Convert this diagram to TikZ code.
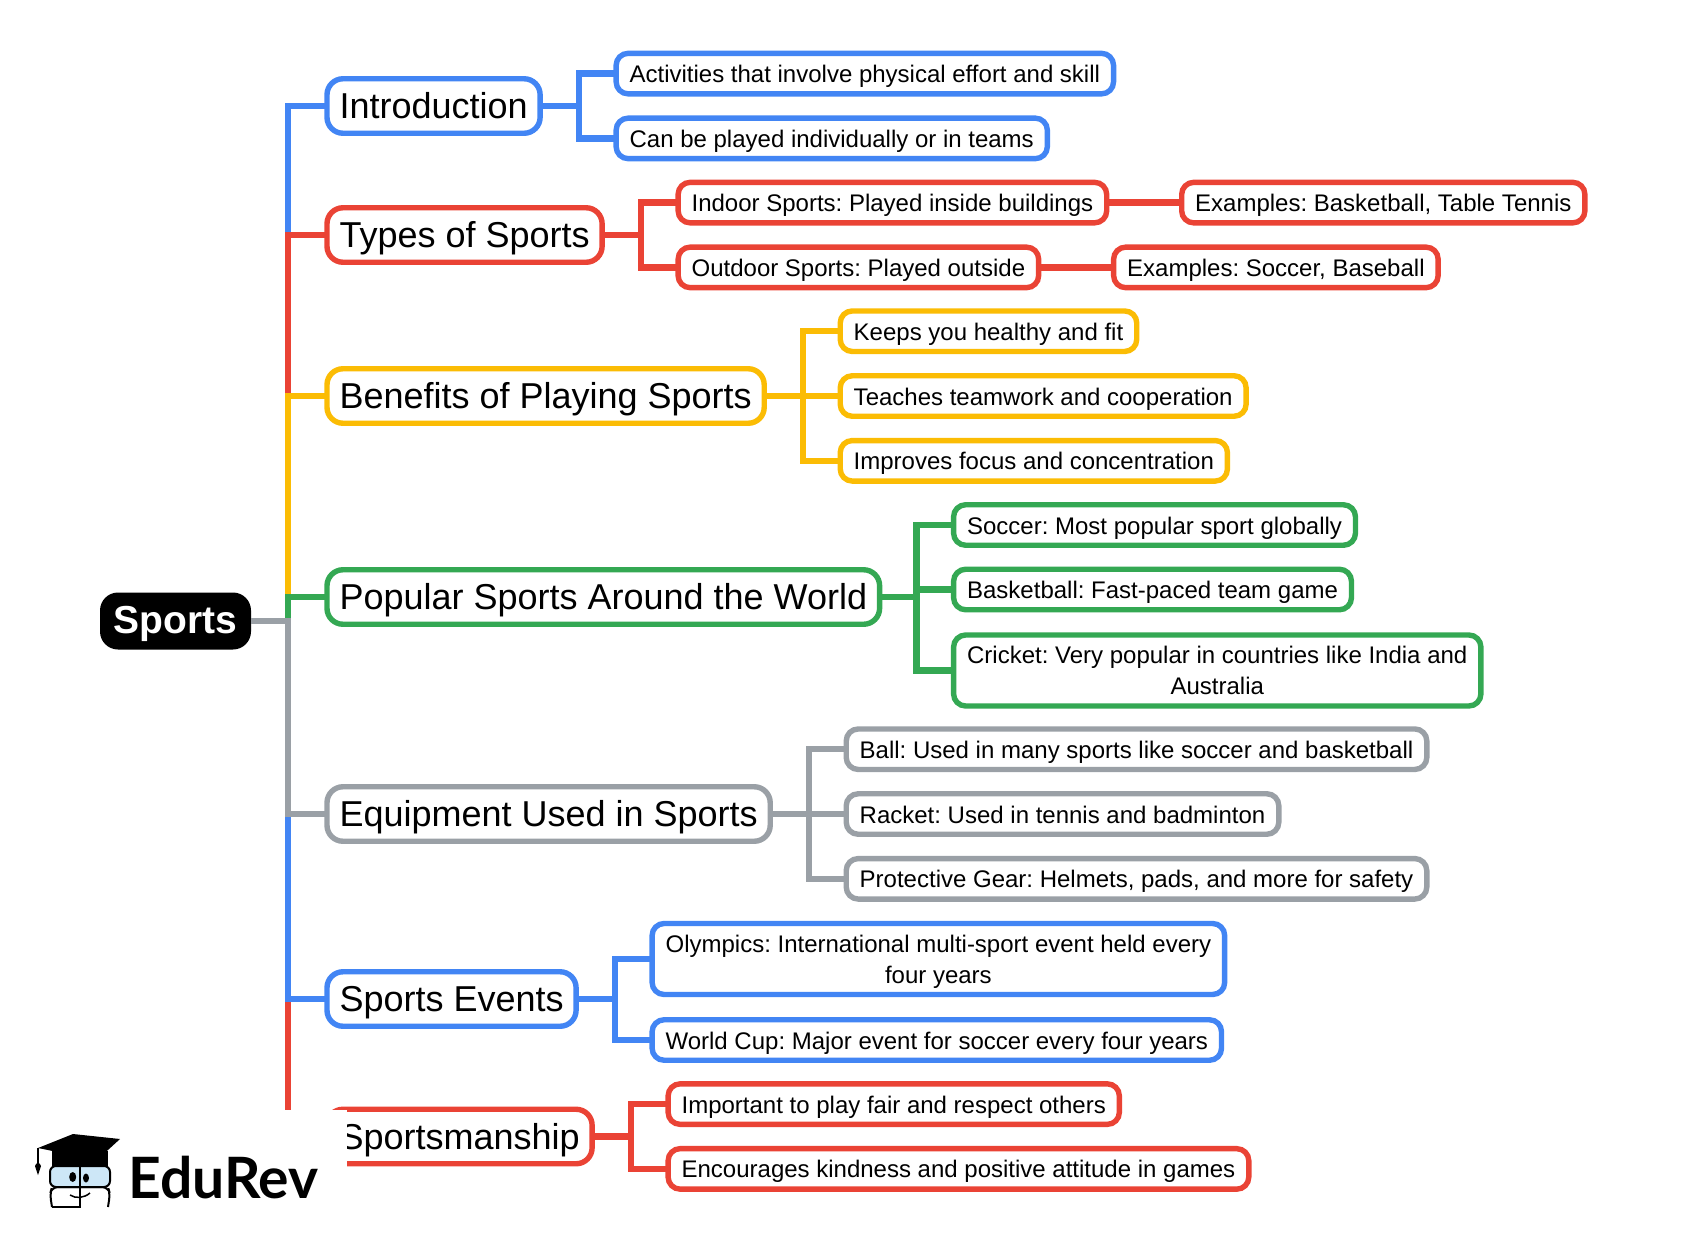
\documentclass[tikz,border=0pt]{standalone}
\usepackage{fontspec}
\setmainfont{Liberation Sans}
\newfontfamily\logofont{Lato}
\usetikzlibrary{positioning}
\definecolor{mblue}{HTML}{4285F4}
\definecolor{mred}{HTML}{EA4335}
\definecolor{myellow}{HTML}{FBBC04}
\definecolor{mgreen}{HTML}{34A853}
\definecolor{mgray}{HTML}{9AA0A6}
\definecolor{glass}{HTML}{CDE7F7}
\tikzstyle{rootbox} = [rectangle, rounded corners=18pt, minimum width=151pt, minimum height=57pt, inner sep=0pt, outer sep=0pt, fill=black, text=white, text height=30pt, text depth=6pt, font=\fontsize{39}{44}\selectfont\bfseries]
\tikzstyle{topic} = [rectangle, rounded corners=16pt, minimum height=54.5pt, inner xsep=12.5pt, inner ysep=0pt, outer sep=0pt, line width=5.4pt, fill=white, text height=33pt, text depth=8pt, font=\fontsize{36}{42}\selectfont]
\tikzstyle{leaftwo} = [rectangle, rounded corners=12pt, minimum height=71pt, inner xsep=13.5pt, inner ysep=2pt, outer sep=0pt, line width=5.4pt, fill=white, align=center, text depth=0pt, font=\fontsize{24}{31}\selectfont\frenchspacing]
\tikzstyle{leaf} = [leaftwo, minimum height=40.5pt, text height=23pt, text depth=5pt]
\tikzstyle{link} = [line width=6.4pt]

\begin{document}
\begin{tikzpicture}[node distance=0cm, x=1pt, y=1pt]
    \useasboundingbox (0,0) rectangle (1687,-1242);

    \node (root) [rootbox] at (175.5,-621) {Sports};

    \node (intro) [topic, draw=mblue, right=of root.east, xshift=76pt, yshift=515pt] {Introduction};
    \node (types) [topic, draw=mred, right=of root.east, xshift=76pt, yshift=386pt] {Types of Sports};
    \node (benefits) [topic, draw=myellow, right=of root.east, xshift=76pt, yshift=225pt] {Benefits of Playing Sports};
    \node (popular) [topic, draw=mgreen, right=of root.east, xshift=76pt, yshift=24pt] {Popular Sports Around the World};
    \node (equip) [topic, draw=mgray, right=of root.east, xshift=76pt, yshift=-193pt] {Equipment Used in Sports};
    \node (events) [topic, draw=mblue, right=of root.east, xshift=76pt, yshift=-378pt] {Sports Events};
    \node (manship) [topic, draw=mred, right=of root.east, xshift=76pt, yshift=-515.5pt] {Sportsmanship};

    \node (effort) [leaf, draw=mblue, right=of intro.east, xshift=76pt, yshift=32.4pt] {Activities that involve physical effort and skill};
    \node (teams) [leaf, draw=mblue, right=of intro.east, xshift=76pt, yshift=-32.4pt] {Can be played individually or in teams};

    \node (indoor) [leaf, draw=mred, right=of types.east, xshift=76pt, yshift=32.4pt] {Indoor Sports: Played inside buildings};
    \node (outdoor) [leaf, draw=mred, right=of types.east, xshift=76pt, yshift=-32.4pt] {Outdoor Sports: Played outside};
    \node (indoorex) [leaf, draw=mred, right=of indoor.east, xshift=75pt] {Examples: Basketball, Table Tennis};
    \node (outdoorex) [leaf, draw=mred, right=of outdoor.east, xshift=75pt] {Examples: Soccer, Baseball};

    \node (healthy) [leaf, draw=myellow, right=of benefits.east, xshift=76pt, yshift=64.8pt] {Keeps you healthy and fit};
    \node (teamwork) [leaf, draw=myellow, right=of benefits.east, xshift=76pt] {Teaches teamwork and cooperation};
    \node (focus) [leaf, draw=myellow, right=of benefits.east, xshift=76pt, yshift=-64.8pt] {Improves focus and concentration};

    \node (soccer) [leaf, draw=mgreen, right=of popular.east, xshift=74pt, yshift=72pt] {Soccer: Most popular sport globally};
    \node (basket) [leaf, draw=mgreen, right=of popular.east, xshift=74pt, yshift=7.5pt] {Basketball: Fast-paced team game};
    \node (cricket) [leaftwo, draw=mgreen, right=of popular.east, xshift=74pt, yshift=-73.5pt] {Cricket: Very popular in countries like India and\\Australia};

    \node (ball) [leaf, draw=mgray, right=of equip.east, xshift=76pt, yshift=64.8pt] {Ball: Used in many sports like soccer and basketball};
    \node (racket) [leaf, draw=mgray, right=of equip.east, xshift=76pt] {Racket: Used in tennis and badminton};
    \node (gear) [leaf, draw=mgray, right=of equip.east, xshift=76pt, yshift=-64.8pt] {Protective Gear: Helmets, pads, and more for safety};

    \node (olympics) [leaftwo, draw=mblue, right=of events.east, xshift=76pt, yshift=40pt] {Olympics: International multi-sport event held every\\four years};
    \node (cup) [leaf, draw=mblue, right=of events.east, xshift=76pt, yshift=-41pt] {World Cup: Major event for soccer every four years};

    \node (fair) [leaf, draw=mred, right=of manship.east, xshift=76pt, yshift=32.4pt] {Important to play fair and respect others};
    \node (kind) [leaf, draw=mred, right=of manship.east, xshift=76pt, yshift=-32.4pt] {Encourages kindness and positive attitude in games};

    % trunk, the lower ones go on top
    \draw [link, mblue] (root.east) -- ([xshift=37pt]root.east) |- (intro.west);
    \draw [link, mred] (root.east) -- ([xshift=37pt]root.east) |- (types.west);
    \draw [link, myellow] (root.east) -- ([xshift=37pt]root.east) |- (benefits.west);
    \draw [link, mgreen] (root.east) -- ([xshift=37pt]root.east) |- (popular.west);
    \draw [link, mred] (root.east) -- ([xshift=37pt]root.east) |- (manship.west);
    \draw [link, mblue] (root.east) -- ([xshift=37pt]root.east) |- (events.west);
    \draw [link, mgray] (root.east) -- ([xshift=37pt]root.east) |- (equip.west);

    \draw [link, mblue] (intro.east) -- ([xshift=39pt]intro.east) |- (effort.west);
    \draw [link, mblue] (intro.east) -- ([xshift=39pt]intro.east) |- (teams.west);

    \draw [link, mred] (types.east) -- ([xshift=39pt]types.east) |- (indoor.west);
    \draw [link, mred] (types.east) -- ([xshift=39pt]types.east) |- (outdoor.west);
    \draw [link, mred] (indoor) -- (indoorex);
    \draw [link, mred] (outdoor) -- (outdoorex);

    \draw [link, myellow] (benefits.east) -- ([xshift=39pt]benefits.east) |- (healthy.west);
    \draw [link, myellow] (benefits.east) -- (teamwork.west);
    \draw [link, myellow] (benefits.east) -- ([xshift=39pt]benefits.east) |- (focus.west);

    \draw [link, mgreen] (popular.east) -- ([xshift=37pt]popular.east) |- (soccer.west);
    \draw [link, mgreen] (popular.east) -- ([xshift=37pt]popular.east) |- (basket.west);
    \draw [link, mgreen] (popular.east) -- ([xshift=37pt]popular.east) |- (cricket.west);

    \draw [link, mgray] (equip.east) -- ([xshift=39pt]equip.east) |- (ball.west);
    \draw [link, mgray] (equip.east) -- (racket.west);
    \draw [link, mgray] (equip.east) -- ([xshift=39pt]equip.east) |- (gear.west);

    \draw [link, mblue] (events.east) -- ([xshift=39pt]events.east) |- (olympics.west);
    \draw [link, mblue] (events.east) -- ([xshift=39pt]events.east) |- (cup.west);

    \draw [link, mred] (manship.east) -- ([xshift=39pt]manship.east) |- (fair.west);
    \draw [link, mred] (manship.east) -- ([xshift=39pt]manship.east) |- (kind.west);

    % logo sits on a white patch
    \fill [white] (0,-1110) rectangle (347,-1242);
    \fill [black] (52,-1151) rectangle (108,-1168);
    \fill [black] (38,-1148) -- (73,-1134) -- (120,-1139) -- (97,-1160) -- cycle;
    \draw [line width=1.5pt] (38,-1148) -- (38,-1166);
    \fill [black] (35,-1166) .. controls (36,-1162) and (40,-1162) .. (41,-1166) -- (38,-1175) -- cycle;
    \draw [line width=2pt, fill=glass, rounded corners=6pt] (50,-1166) rectangle (110,-1187);
    \draw [line width=2pt, rounded corners=6pt] (52,-1207) -- (50,-1194) -- (52,-1187) -- (108,-1187) -- (110,-1194) -- (108,-1207);
    \draw [line width=2pt] (52,-1207) -- (80,-1207);
    \draw [line width=2pt] (80,-1164) -- (80,-1208);
    \fill [black] (72.7,-1177) ellipse (3.5pt and 5pt);
    \fill [black] (86,-1178) ellipse (3pt and 4.5pt);
    \draw [line width=1.5pt] (70,-1195) .. controls (76,-1199) and (84,-1198) .. (90,-1193);
    \node (logotext) [anchor=west, inner sep=0pt, font=\fontsize{57}{60}\selectfont\logofont\bfseries] at (128,-1178) {EduRev};
\end{tikzpicture}
\end{document}
